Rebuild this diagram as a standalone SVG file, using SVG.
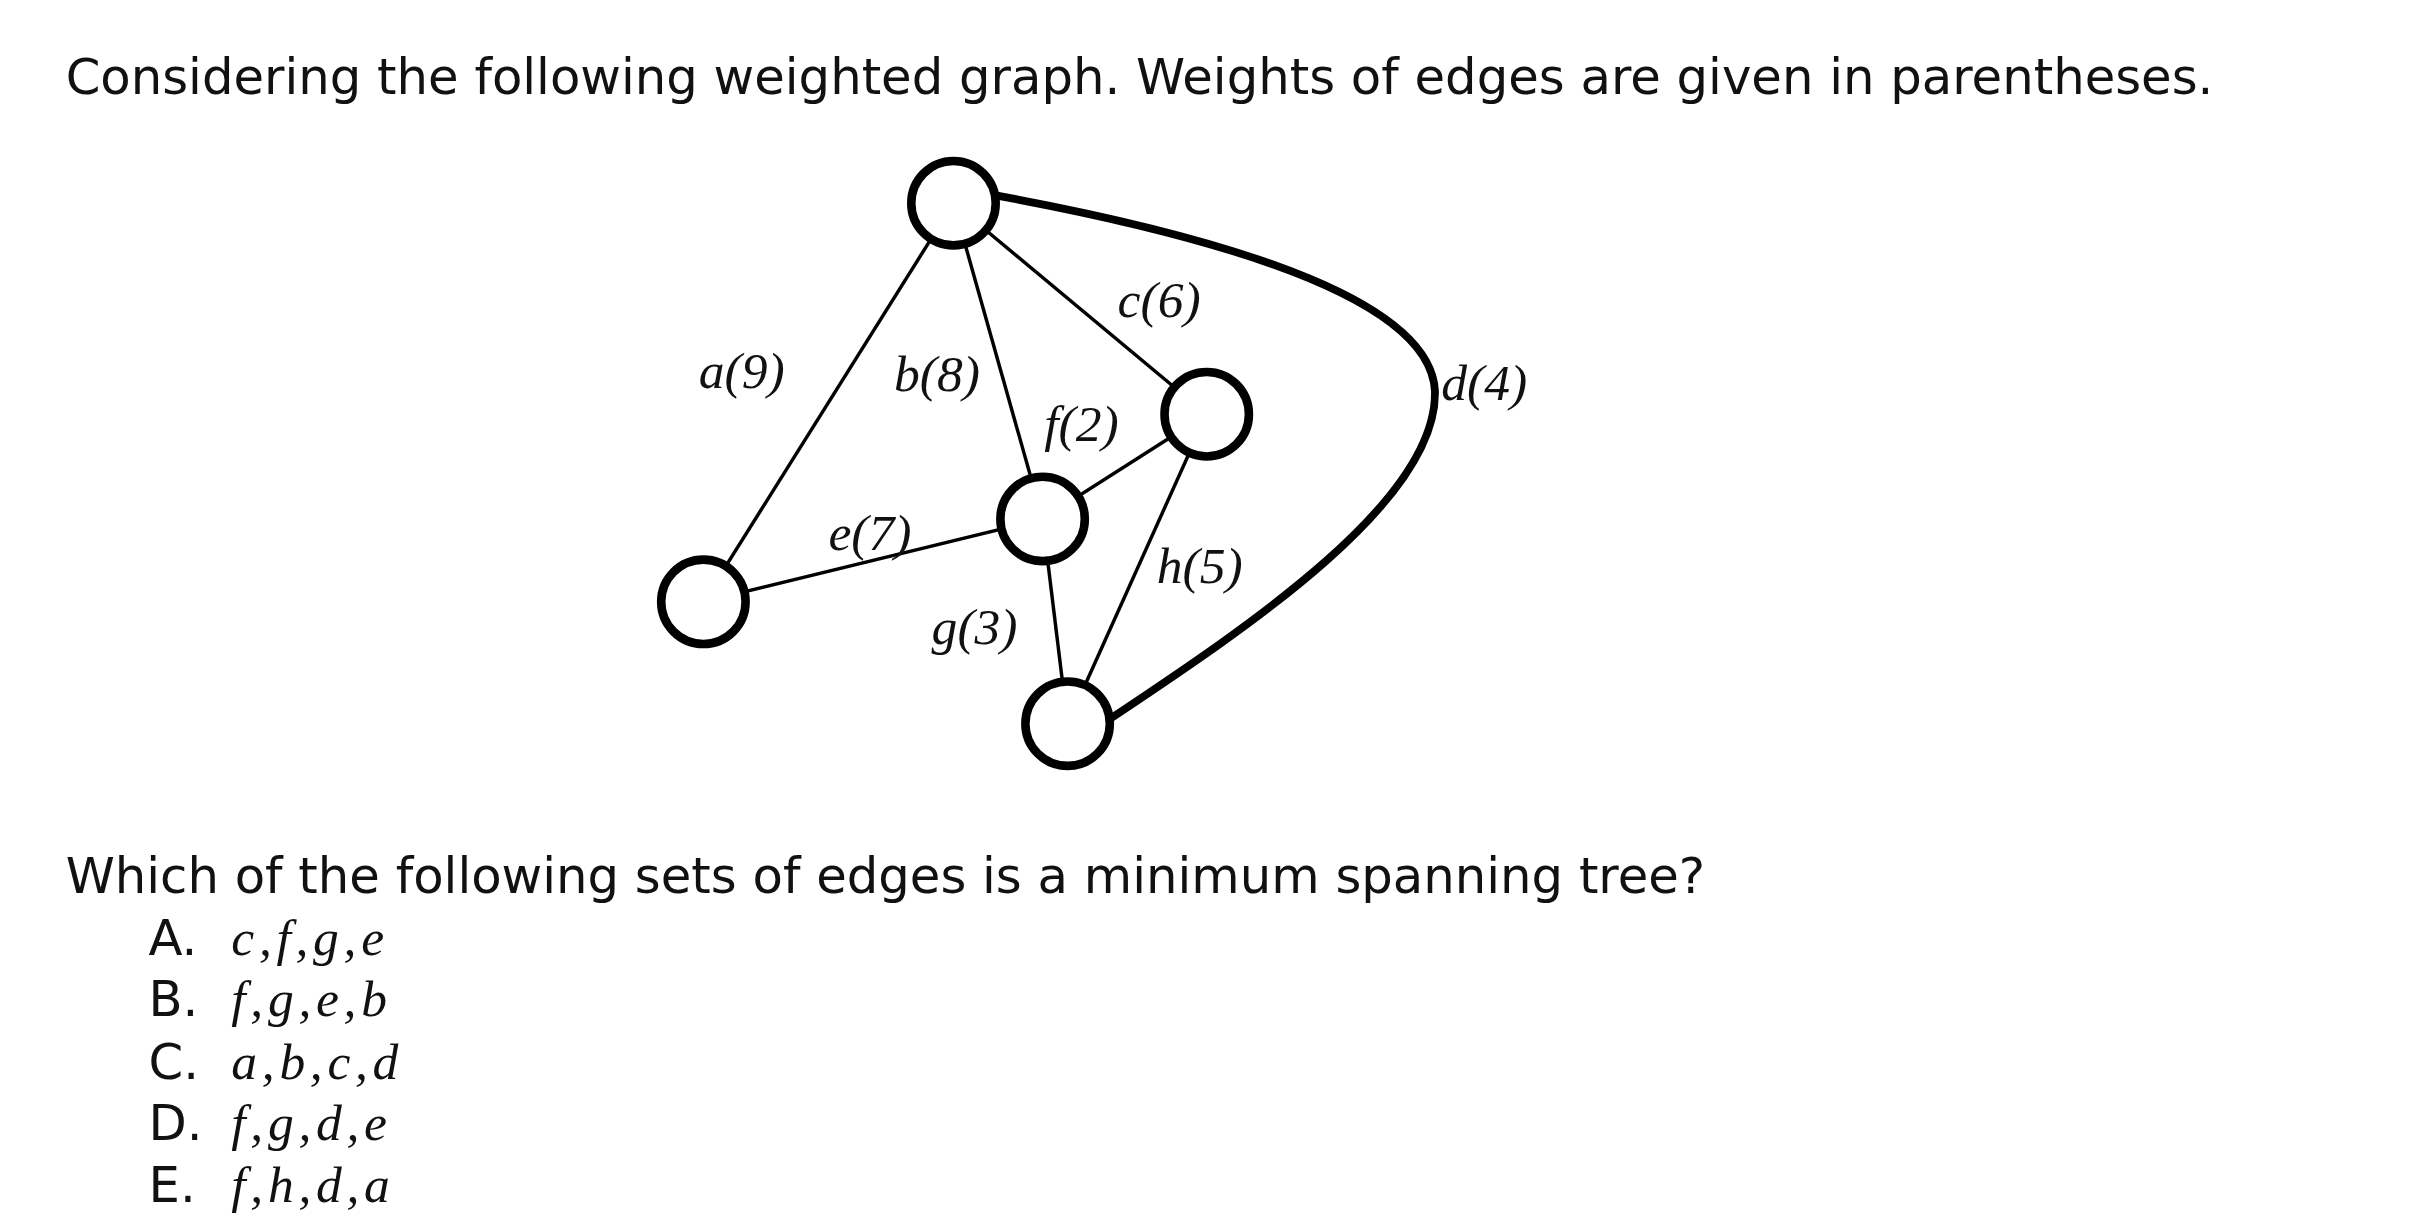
<svg xmlns="http://www.w3.org/2000/svg" width="2426" height="1232" viewBox="0 0 2426 1232">
<style>
.t{font-family:"DejaVu Sans",Verdana,sans-serif;font-size:31.8px;fill:#111}
.m{font-family:"Liberation Serif","DejaVu Serif",serif;font-style:italic;font-size:33px;fill:#111}
.o{letter-spacing:3px}
.e{stroke:#000;stroke-width:2.2;fill:none}
.n{fill:#fff;stroke:#000;stroke-width:5.5}
</style>
<rect width="2426" height="1232" fill="#fff"/>
<g transform="scale(1.5631)">
<text class="t" x="42" y="60">Considering the following weighted graph. Weights of edges are given in parentheses.</text>
<g id="connectors">
<line class="e" x1="610" y1="130" x2="450" y2="385"/>
<line class="e" x1="610" y1="130" x2="667" y2="332"/>
<line class="e" x1="610" y1="130" x2="772" y2="265"/>
<line class="e" x1="667" y1="332" x2="772" y2="265"/>
<line class="e" x1="450" y1="385" x2="667" y2="332"/>
<line class="e" x1="667" y1="332" x2="683" y2="463"/>
<line class="e" x1="772" y1="265" x2="683" y2="463"/>
<path d="M637,125 C800,155 915,195 918,250 C920,320 800,400 710,460" stroke="#000" stroke-width="5" fill="none"/>
</g>
<g id="labels">
<text class="m" x="447" y="248">a(9)</text>
<text class="m" x="572" y="250">b(8)</text>
<text class="m" x="715" y="203">c(6)</text>
<text class="m" x="668" y="282">f(2)</text>
<text class="m" x="922" y="256">d(4)</text>
<text class="m" x="530" y="352">e(7)</text>
<text class="m" x="740" y="373">h(5)</text>
<text class="m" x="596" y="412">g(3)</text>
</g>
<g id="n1"><circle class="n" cx="610" cy="130" r="27"/></g>
<g id="n2"><circle class="n" cx="772" cy="265" r="27"/></g>
<g id="n3"><circle class="n" cx="667" cy="332" r="27"/></g>
<g id="n4"><circle class="n" cx="450" cy="385" r="27"/></g>
<g id="n5"><circle class="n" cx="683" cy="463" r="27"/></g>
<text class="t" x="42" y="571">Which of the following sets of edges is a minimum spanning tree?</text>
<text class="t" x="95" y="611">A.</text><text class="m o" x="148" y="611">c,f,g,e</text>
<text class="t" x="95" y="650">B.</text><text class="m o" x="148" y="650">f,g,e,b</text>
<text class="t" x="95" y="690">C.</text><text class="m o" x="148" y="690">a,b,c,d</text>
<text class="t" x="95" y="729">D.</text><text class="m o" x="148" y="729">f,g,d,e</text>
<text class="t" x="95" y="769">E.</text><text class="m o" x="148" y="769">f,h,d,a</text>
</g>
</svg>
